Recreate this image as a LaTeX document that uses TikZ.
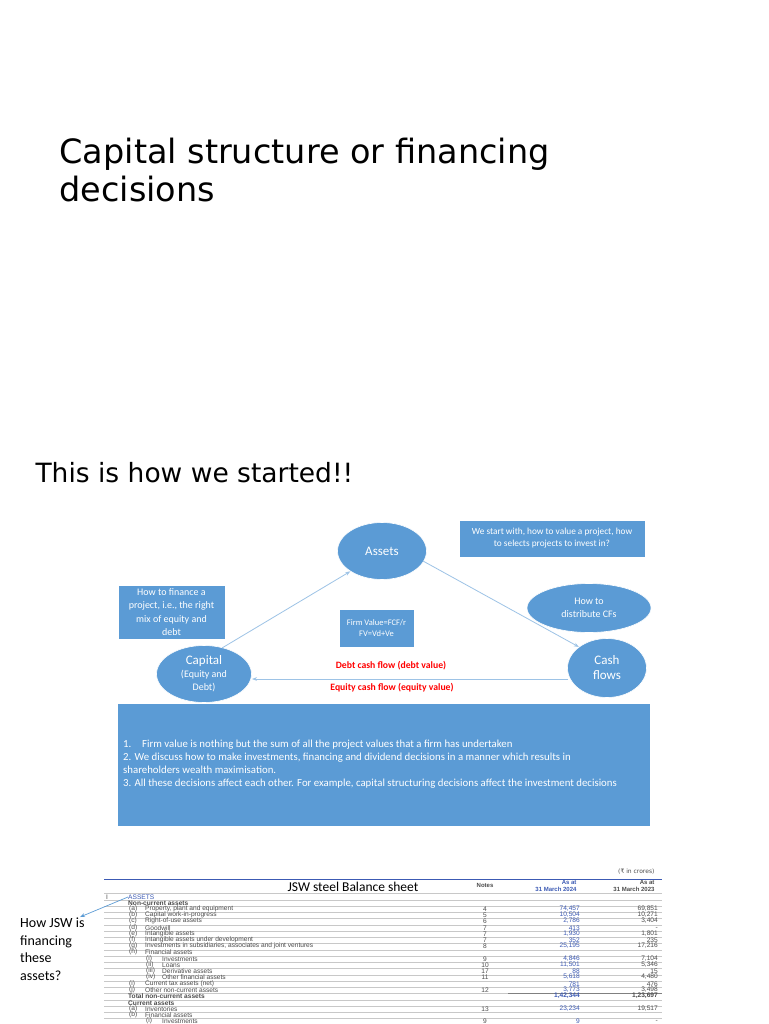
\documentclass[tikz,border=0pt]{standalone}
\usepackage{fontspec}
\setmainfont{DejaVu Sans}
\newfontfamily\carl{Carlito}
\newfontfamily\lib{Liberation Sans}
\newfontfamily\dvs{DejaVu Sans}
\usetikzlibrary{shapes.geometric,arrows.meta}
\definecolor{bl}{HTML}{5B9BD5}
\definecolor{lbl}{HTML}{9DC3E6}
\definecolor{tb}{HTML}{3C5AB4}
\definecolor{rl}{HTML}{C8C8C8}
\begin{document}
\begin{tikzpicture}[x=1pt,y=-1pt,
  ell/.style={ellipse,fill=bl,draw=white,line width=0.6pt,text=white,align=center,inner sep=0pt,font=\carl\fontsize{13}{15}\selectfont},
  bbox/.style={fill=bl,draw=white,line width=0.6pt,text=white,align=center,inner sep=2pt,font=\carl\fontsize{10}{13.5}\selectfont},
  con/.style={draw=lbl,line width=0.8pt,-{Stealth[length=5pt]}},
  red/.style={text=red,font=\carl\bfseries\fontsize{9.7}{10}\selectfont},
  tbl/.style={font=\lib\fontsize{6.6}{6}\selectfont,inner sep=0pt,text=black!70},
  num/.style={font=\lib\fontsize{6.6}{6}\selectfont,inner sep=0pt},
]
\useasboundingbox (0,0) rectangle (768,1024);
\fill[white] (0,0) rectangle (768,1024);
\node[anchor=west,font=\fontsize{33.5}{38}\selectfont,align=left] (title) at (56,170) {Capital structure or financing\\decisions};
\node[anchor=west,font=\fontsize{26.5}{28}\selectfont] (start) at (32,473) {This is how we started!!};

% diagram
\node[ell,minimum width=89pt,minimum height=57pt] (assets) at (382,551) {Assets};
\node[ell,minimum width=95pt,minimum height=57pt] (capital) at (204,674) {Capital\\[-2pt]{\fontsize{10}{12}\selectfont (Equity and}\\[-2pt]{\fontsize{10}{12}\selectfont Debt)}};
\node[ell,minimum width=79pt,minimum height=59pt] (cash) at (607,668) {Cash\\flows};
\node[ell,minimum width=124pt,minimum height=49pt,font=\carl\fontsize{10}{13}\selectfont] (dist) at (589,608) {How to\\distribute CFs};
\node[bbox,minimum width=186pt,minimum height=37pt,font=\carl\fontsize{9.3}{12}\selectfont] (start2) at (552,538.5) {We start with, how to value a project, how\\to selects projects to invest in?};
\node[bbox,minimum width=107pt,minimum height=54pt] (fin) at (171.5,612) {How to finance a\\project, i.e., the right\\mix of equity and\\debt};
\node[bbox,minimum width=75pt,minimum height=38pt,font=\carl\fontsize{8.5}{11}\selectfont] (fv) at (376.5,628) {Firm Value=FCF/r\\FV=Vd+Ve};
\coordinate (c1) at (222,648);
\coordinate (a1) at (423,561);
\coordinate (cw) at (568,679);
\coordinate (ce) at (252,679);
\draw[con] (c1) -- (assets.south west);
\draw[con] (a1) -- (cash.north west);
\draw[con] (cw) -- (ce);
\node[red] (debt) at (391,666) {Debt cash flow (debt value)};
\node[red] (eq) at (392,688) {Equity cash flow (equity value)};

\node[fill=bl,minimum width=532pt,minimum height=122pt,inner sep=0pt] (big) at (384,765) {};
\node[anchor=north west,text=white,align=left,font=\carl\fontsize{10.8}{13}\selectfont,inner sep=0pt] (bigtxt) at (123,740) {1.\quad Firm value is nothing but the sum of all the project values that a firm has undertaken\\2. We discuss how to make investments, financing and dividend decisions in a manner which results in\\shareholders wealth maximisation.\\3. All these decisions affect each other. For example, capital structuring decisions affect the investment decisions};

% balance sheet
\draw[tb,line width=1pt] (104,879) -- (662,879);
\node[anchor=east,font=\dvs\fontsize{6}{6}\selectfont,text=black!70] (unit) at (658,872) {(₹ in crores)};
\node[font=\carl\fontsize{13.5}{14}\selectfont] (bs) at (353,887) {JSW steel Balance sheet};
\node[font=\lib\bfseries\fontsize{6}{6}\selectfont,text=black!70] (notes) at (485,885) {Notes};
\node[anchor=east,align=right,text=tb,font=\lib\bfseries\fontsize{6}{6.5}\selectfont] (y24) at (580,886) {As at\\31 March 2024};
\node[anchor=east,align=right,text=black!70,font=\lib\bfseries\fontsize{6}{6.5}\selectfont] (y23) at (658,886) {As at\\31 March 2023};
\foreach \i in {0,...,20} \draw[rl,line width=0.4pt] (104,{893.5+\i*6.25}) -- (662,{893.5+\i*6.25});
\draw[black!50,line width=1pt] (508,993.5) -- (662,993.5);
\node[tbl,anchor=west] at (106,897) {I};
\node[tbl,anchor=west,text=tb] (assetsrow) at (128,897) {ASSETS};
\foreach \y/\a/\t/\n/\u/\v in {
 909/(a)/{Property, plant and equipment}/4/{74,457}/{69,851},
 915/(b)/Capital work-in-progress/5/{10,504}/{10,271},
 921/(c)/Right-of-use assets/6/{2,786}/{3,404},
 928/(d)/Goodwill/7/413/-,
 934/(e)/Intangible assets/7/{1,930}/{1,801},
 940/(f)/Intangible assets under development/7/352/235,
 946/(g)/{Investments in subsidiaries, associates and joint ventures}/8/{25,195}/{17,216},
 952/(h)/Financial assets/{}/{}/{},
 984/(i)/Current tax assets (net)/{}/781/476,
 990/(j)/Other non-current assets/12/{3,773}/{3,498},
 1009/(a)/Inventories/13/{23,234}/{19,517},
 1015/(b)/Financial assets/{}/{}/{}}{
 \node[tbl,anchor=west] at (129,\y) {\a};
 \node[tbl,anchor=west] at (145,\y) {\t};
 \node[tbl] at (485,\y) {\n};
 \node[num,anchor=east,text=tb] at (580,\y) {\u};
 \node[num,anchor=east,text=black!70] at (658,\y) {\v};
}
\foreach \y/\a/\t/\n/\u/\v in {
 959/(i)/Investments/9/{4,846}/{7,104},
 965/(ii)/Loans/10/{11,501}/{5,346},
 971/(iii)/Derivative assets/17/88/15,
 977/(iv)/Other financial assets/11/{5,618}/{4,480},
 1021/(i)/Investments/9/9/-}{
 \node[tbl,anchor=west] at (146,\y) {\a};
 \node[tbl,anchor=west] at (162,\y) {\t};
 \node[tbl] at (485,\y) {\n};
 \node[num,anchor=east,text=tb] at (580,\y) {\u};
 \node[num,anchor=east,text=black!70] at (658,\y) {\v};
}
\node[tbl,anchor=west,font=\lib\bfseries\fontsize{6.6}{6}\selectfont] at (128,903) {Non-current assets};
\node[tbl,anchor=west,font=\lib\bfseries\fontsize{6.6}{6}\selectfont] at (128,996) {Total non-current assets};
\node[num,anchor=east,text=tb,font=\lib\bfseries\fontsize{6.6}{6}\selectfont] at (580,996) {1,42,344};
\node[num,anchor=east,text=black!70,font=\lib\bfseries\fontsize{6.6}{6}\selectfont] at (658,996) {1,23,697};
\node[tbl,anchor=west,font=\lib\bfseries\fontsize{6.6}{6}\selectfont] at (128,1003) {Current assets};

\node[anchor=north west,align=left,font=\carl\fontsize{14}{17.5}\selectfont,inner sep=0pt] (how) at (20,918) {How JSW is\\financing\\these\\assets?};
\coordinate (howtip) at (80,917);
\draw[draw=bl,line width=0.7pt,-{Stealth[length=5pt]}] (assetsrow.west) -- (howtip);
\end{tikzpicture}
\end{document}
